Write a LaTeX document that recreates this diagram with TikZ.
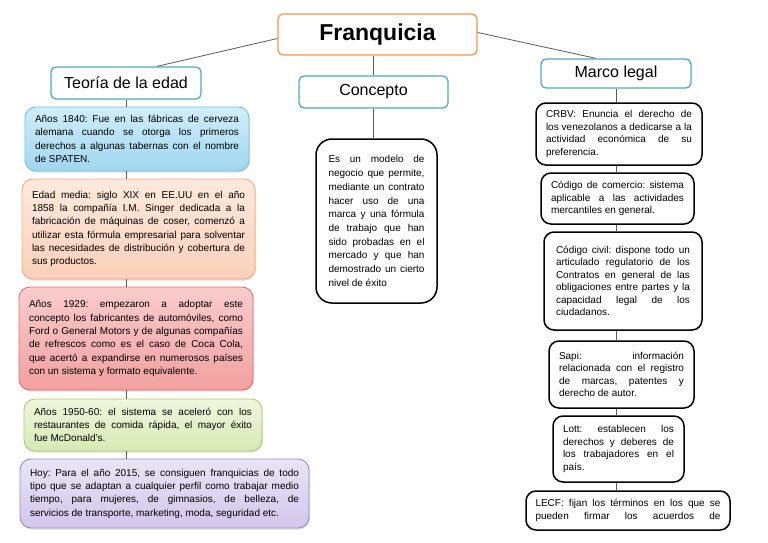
\documentclass[tikz,border=0pt]{standalone}
\usepackage{fontspec}
\setmainfont{Liberation Sans}
\usetikzlibrary{shadows}
\setlength{\parindent}{0pt}
\frenchspacing

\definecolor{naranja}{HTML}{F79646}
\definecolor{celeste}{HTML}{4BACC6}
\definecolor{azulA}{RGB}{208,238,250}
\definecolor{azulB}{RGB}{160,214,238}
\definecolor{azulL}{RGB}{120,192,222}
\definecolor{melonA}{RGB}{254,234,222}
\definecolor{melonB}{RGB}{250,208,184}
\definecolor{melonL}{RGB}{246,170,118}
\definecolor{rosaA}{RGB}{250,204,204}
\definecolor{rosaB}{RGB}{242,160,160}
\definecolor{rosaL}{RGB}{226,112,112}
\definecolor{verdeA}{RGB}{238,246,222}
\definecolor{verdeB}{RGB}{214,234,180}
\definecolor{verdeL}{RGB}{170,206,110}
\definecolor{lilaA}{RGB}{234,228,246}
\definecolor{lilaB}{RGB}{210,198,234}
\definecolor{lilaL}{RGB}{156,136,196}

\begin{document}
\begin{tikzpicture}[x=1pt,y=-1pt,
    cabecera/.style={draw=celeste, line width=1.3pt, rounded corners=5pt, fill=white,
        font=\fontsize{16}{18}\selectfont, inner sep=0pt},
    hoja/.style n args={3}{draw=#1, top color=#2, bottom color=#3, line width=0.9pt,
        rounded corners=11pt, drop shadow={shadow xshift=1pt, shadow yshift=-1.5pt, opacity=0.25},
        font=\fontsize{10}{13.3}\selectfont, align=justify, inner xsep=10pt, inner ysep=0pt},
    ley/.style={draw=black, line width=1.5pt, rounded corners=10pt, fill=white,
        font=\fontsize{10}{12.5}\selectfont, align=justify, inner xsep=10pt, inner ysep=0pt},
    enlace/.style={draw=black!65, line width=0.8pt}]

    \fill[white] (0,0) rectangle (768,543);
    \useasboundingbox (0,0) rectangle (768,543);

    % cabeceras
    \node (franq) [cabecera, draw=naranja, minimum width=199pt, minimum height=41pt,
        font=\fontsize{23}{26}\selectfont\bfseries] at (377.5,34.5) {Franquicia};
    \node (teoria) [cabecera, minimum width=150pt, minimum height=32pt] at (126,83) {Teoría de la edad};
    \node (concepto) [cabecera, minimum width=149pt, minimum height=32pt] at (373.5,92) {Concepto};
    \node (marco) [cabecera, minimum width=150pt, minimum height=29pt] at (616,73.5) {Marco legal};

    % teoria de la edad
    \node (b1) [hoja={azulL}{azulA}{azulB}, text width=204pt, minimum height=64pt] at (137,139)
        {Años 1840: Fue en las fábricas de cerveza\linebreak alemana cuando se otorga los primeros\linebreak derechos a algunas tabernas con el nombre\linebreak de SPATEN.};
    \node (b2) [hoja={melonL}{melonA}{melonB}, text width=213pt, minimum height=100pt] at (138.5,229)
        {Edad media: siglo XIX en EE.UU en el año\linebreak 1858 la compañía I.M. Singer dedicada a la\linebreak fabricación de máquinas de coser, comenzó a\linebreak utilizar esta fórmula empresarial para solventar\linebreak las necesidades de distribución y cobertura de\linebreak sus productos.};
    \node (b3) [hoja={rosaL}{rosaA}{rosaB}, text width=214pt, minimum height=103pt] at (136,338.5)
        {Años 1929: empezaron a adoptar este\linebreak concepto los fabricantes de automóviles, como\linebreak Ford o General Motors y de algunas compañías\linebreak de refrescos como es el caso de Coca Cola,\linebreak que acertó a expandirse en numerosos países\linebreak con un sistema y formato equivalente.};
    \node (b4) [hoja={verdeL}{verdeA}{verdeB}, text width=218pt, minimum height=52pt] at (143,425)
        {Años 1950-60: el sistema se aceleró con los\linebreak restaurantes de comida rápida, el mayor éxito\linebreak fue McDonald’s.};
    \node (b5) [hoja={lilaL}{lilaA}{lilaB}, text width=269pt, minimum height=69pt] at (164.5,493.5)
        {Hoy: Para el año 2015, se consiguen franquicias de todo\linebreak tipo que se adaptan a cualquier perfil como trabajar medio\linebreak tiempo, para mujeres, de gimnasios, de belleza, de\linebreak servicios de transporte, marketing, moda, seguridad etc.};

    % concepto
    \node (def) [ley, rounded corners=16pt, text width=96pt, inner xsep=12.5pt, minimum height=164pt,
        font=\fontsize{10}{13.7}\selectfont] at (376.5,221)
        {Es un modelo de\linebreak negocio que permite,\linebreak mediante un contrato\linebreak hacer uso de una\linebreak marca y una fórmula\linebreak de trabajo que han\linebreak sido probadas en el\linebreak mercado y que han\linebreak demostrado un cierto\linebreak nivel de éxito};

    % marco legal
    \node (crbv) [ley, text width=146pt, minimum height=62pt] at (619,134)
        {CRBV: Enuncia el derecho de\linebreak los venezolanos a dedicarse a la\linebreak actividad económica de su\linebreak preferencia.};
    \node (comercio) [ley, text width=133pt, minimum height=51pt] at (617.5,198.5)
        {Código de comercio: sistema\linebreak aplicable a las actividades\linebreak mercantiles en general.};
    \node (civil) [ley, text width=134pt, inner xsep=12pt, minimum height=98pt] at (623,281)
        {Código civil: dispone todo un\linebreak articulado regulatorio de los\linebreak Contratos en general de las\linebreak obligaciones entre partes y la\linebreak capacidad legal de los\linebreak ciudadanos.};
    \node (sapi) [ley, text width=125pt, minimum height=67pt] at (621.5,374.5)
        {Sapi: información\linebreak relacionada con el registro\linebreak de marcas, patentes y\linebreak derecho de autor.};
    \node (lott) [ley, text width=111pt, minimum height=66pt] at (618.5,449)
        {Lott: establecen los\linebreak derechos y deberes de\linebreak los trabajadores en el\linebreak país.};
    \node (lecf) [ley, text width=185pt, inner xsep=9.5pt, minimum height=39pt] at (628,510.5)
        {LECF: fijan los términos en los que se\linebreak \makebox[\linewidth][s]{pueden firmar los acuerdos de}};

    % enlaces
    \draw[enlace] ([yshift=-4pt]franq.west) -- ([xshift=31pt]teoria.north);
    \draw[enlace] ([yshift=2pt]franq.east) -- ([xshift=-20pt]marco.north);
    \draw[enlace] (franq.south -| concepto.north) -- (concepto.north);
    \draw[enlace] (concepto.south) -- (concepto.south |- def.north);
    \foreach \a/\b in {teoria/b1, b1/b2, b2/b3, b3/b4, b4/b5}
        \draw[enlace] (\a.south -| teoria.south) -- (\b.north -| teoria.south);
    \foreach \a/\b in {marco/crbv, crbv/comercio, comercio/civil, civil/sapi, sapi/lott, lott/lecf}
        \draw[enlace] (\a.south -| marco.south) -- (\b.north -| marco.south);
\end{tikzpicture}
\end{document}
